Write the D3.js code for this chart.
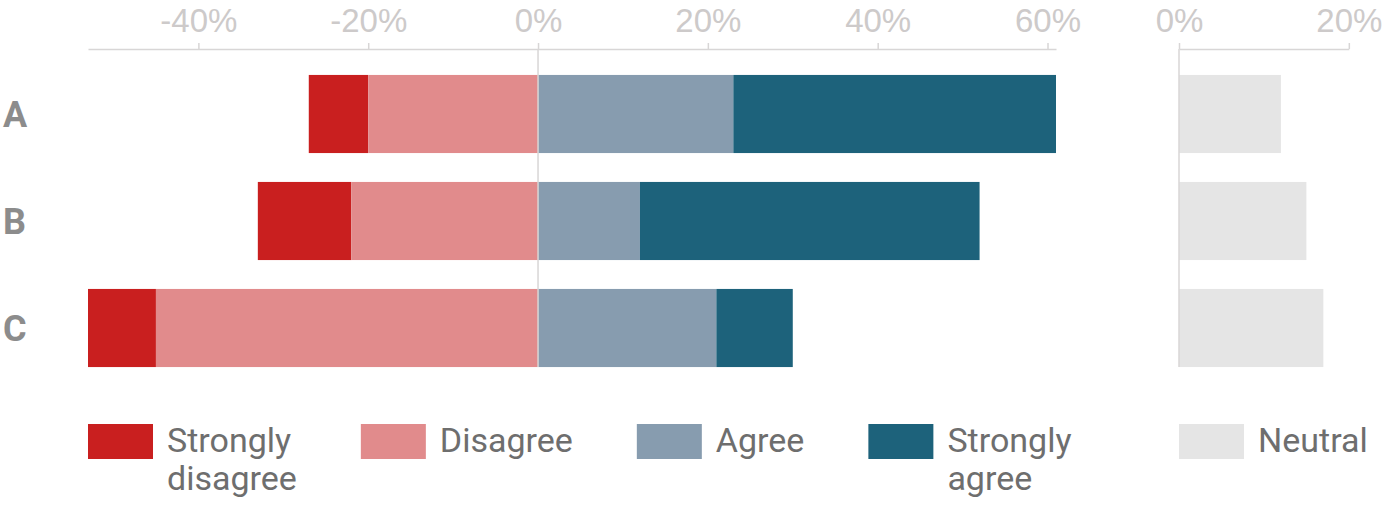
<!DOCTYPE html>
<html>
<head>
<meta charset="utf-8">
<script src="https://cdn.jsdelivr.net/npm/d3@7"></script>
<style>
  body { margin: 0; background: #fff; }
  svg { display: block; font-family: Roboto, "Noto Sans", sans-serif; }
</style>
</head>
<body>
<div id="chart"></div>
<script>
// Survey answers, share of respondents (%)
const categories = ["A", "B", "C"];
const strongDisagree = [7, 11, 8];
const disagree = [20, 22, 45];
const agree = [23, 12, 21];
const strongAgree = [38, 40, 9];
const neutral = [12, 15, 17];

const xTicks = [-40, -20, 0, 20, 40, 60];
const neutralTicks = [0, 20];

const seriesNames = ["Strongly disagree", "Disagree", "Agree", "Strongly agree"];
const seriesColors = ["#c91f1f", "#e18b8c", "#879caf", "#1d627b"];
const neutralName = "Neutral";
const neutralColor = "#e5e5e5";

const width = 1400, height = 508;
const axisY = 49;
const lineColor = "#d8d6d6";

// Build the diverging segments: negatives go left of zero
const segments = [];
categories.forEach((c, i) => {
  const sd = strongDisagree[i], d = disagree[i], a = agree[i], sa = strongAgree[i];
  segments.push({ cat: c, s: 0, x0: -(sd + d), x1: -d });
  segments.push({ cat: c, s: 1, x0: -d, x1: 0 });
  segments.push({ cat: c, s: 2, x0: 0, x1: a });
  segments.push({ cat: c, s: 3, x0: a, x1: a + sa });
});

const svg = d3.select("#chart")
  .append("svg")
  .attr("width", width)
  .attr("height", height);

const x = d3.scaleLinear()
  .domain([d3.min(segments, d => d.x0), d3.max(segments, d => d.x1)])
  .range([88, 1056]);

// neutral panel uses the same px per percent, axis runs to its last tick
const xn = d3.scaleLinear()
  .domain([0, d3.max(neutralTicks)])
  .range([1179, 1179 + x(d3.max(neutralTicks)) - x(0)]);

const y = d3.scaleBand()
  .domain(categories)
  .range([60.5, 381.5])
  .paddingInner(0.27)
  .paddingOuter(0.135);

const barBottom = y(categories[categories.length - 1]) + y.bandwidth();

// axes
function styleAxis(g) {
  g.select(".domain").attr("stroke", lineColor).attr("stroke-width", 1.5);
  g.selectAll(".tick line").attr("stroke", lineColor).attr("stroke-width", 1.5);
  g.selectAll(".tick text")
    .attr("fill", "#cdcaca")
    .style("font-size", "33px");
}

svg.append("g")
  .attr("transform", `translate(0,${axisY})`)
  .call(d3.axisTop(x).tickValues(xTicks).tickSize(6).tickSizeOuter(0).tickPadding(11)
    .tickFormat(d => d + "%"))
  .call(styleAxis);

svg.append("g")
  .attr("transform", `translate(0,${axisY})`)
  .call(d3.axisTop(xn).tickValues(neutralTicks).tickSize(6).tickSizeOuter(0).tickPadding(11)
    .tickFormat(d => d + "%"))
  .call(styleAxis);

// bars
svg.append("g")
  .selectAll("rect")
  .data(segments)
  .enter()
  .append("rect")
  .attr("x", d => x(d.x0))
  .attr("y", d => y(d.cat))
  .attr("width", d => x(d.x1) - x(d.x0))
  .attr("height", y.bandwidth())
  .attr("fill", d => seriesColors[d.s]);

svg.append("g")
  .selectAll("rect")
  .data(neutral)
  .enter()
  .append("rect")
  .attr("x", xn(0))
  .attr("y", (d, i) => y(categories[i]))
  .attr("width", d => xn(d) - xn(0))
  .attr("height", y.bandwidth())
  .attr("fill", neutralColor);

// zero lines
[x(0), xn(0)].forEach(px => {
  svg.append("line")
    .attr("x1", px).attr("x2", px)
    .attr("y1", axisY).attr("y2", barBottom)
    .attr("stroke", lineColor)
    .attr("stroke-width", 1.5);
});

// row labels
svg.append("g")
  .selectAll("text")
  .data(categories)
  .enter()
  .append("text")
  .attr("x", 3)
  .attr("y", d => y(d) + y.bandwidth() / 2)
  .attr("dy", "0.36em")
  .attr("fill", "#8c8c8c")
  .style("font-size", "36px")
  .style("font-weight", "bold")
  .text(d => d);

// legend
const swatchW = 65, swatchH = 35, swatchY = 424, textGap = 14, itemGap = 64;
const legend = svg.append("g");

function legendItem(lx, name, color) {
  const g = legend.append("g");
  g.append("rect")
    .attr("x", lx).attr("y", swatchY)
    .attr("width", swatchW).attr("height", swatchH)
    .attr("fill", color);
  const t = g.append("text")
    .attr("fill", "#6e6e6e")
    .style("font-size", "34px");
  const words = name.split(" ");
  words.forEach((w, k) => {
    t.append("tspan")
      .attr("x", lx + swatchW + textGap)
      .attr("y", swatchY + 28 + k * 38)
      .text(w);
  });
  return lx + swatchW + textGap + t.node().getBBox().width;
}

let lx = x.range()[0];
seriesNames.forEach((name, i) => {
  lx = legendItem(lx, name, seriesColors[i]) + itemGap;
});
legendItem(xn(0), neutralName, neutralColor);
</script>
</body>
</html>
